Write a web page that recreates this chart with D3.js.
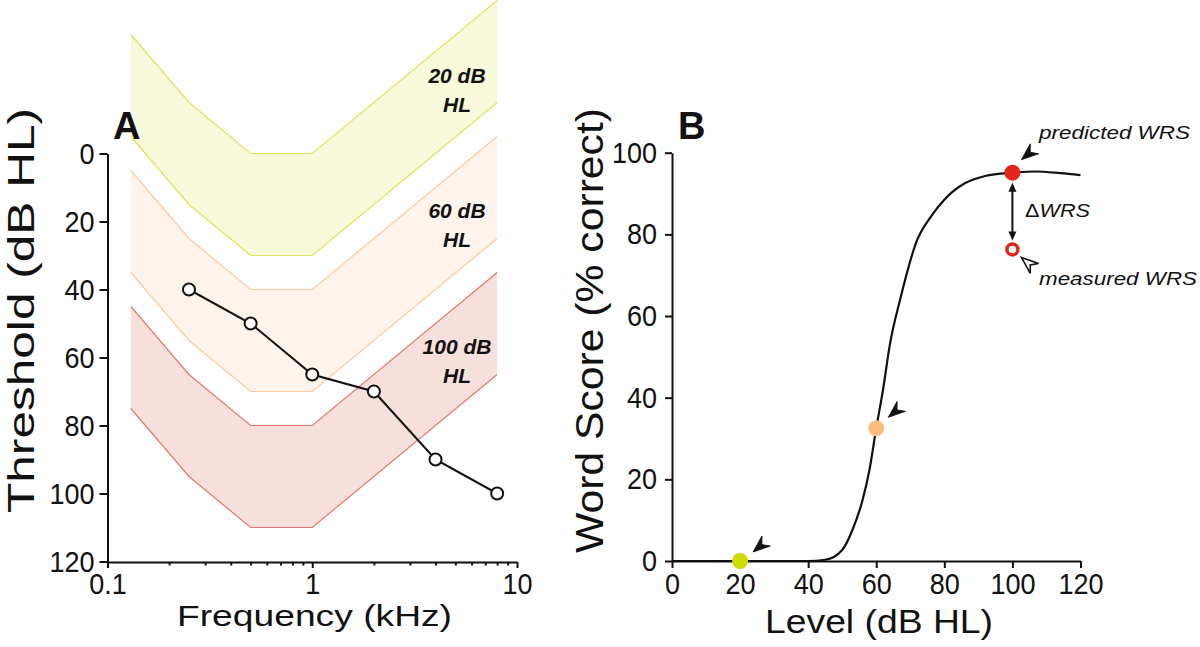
<!DOCTYPE html>
<html>
<head>
<meta charset="utf-8">
<script src="https://cdn.jsdelivr.net/npm/d3@7"></script>
<style>
  body { margin: 0; background: #fff; }
  svg { display: block; }
  text { font-family: "Liberation Sans", Arial, sans-serif; }
</style>
</head>
<body>
<svg id="chart" width="1200" height="647"></svg>
<script>
"use strict";

// ---- panel A data (audiogram) ----
const bandFreqs = [0.13, 0.25, 0.5, 1, 8];
const band20Top = [-35, -15, 0, 0, -45];
const band20Bottom = [-5, 15, 30, 30, -15];
const band60Top = [5, 25, 40, 40, -5];
const band60Bottom = [35, 55, 70, 70, 25];
const band100Top = [45, 65, 80, 80, 35];
const band100Bottom = [75, 95, 110, 110, 65];
const bandLabels = [["20 dB", "HL"], ["60 dB", "HL"], ["100 dB", "HL"]];

const audioFreqs = [0.25, 0.5, 1, 2, 4, 8];
const audioThresholds = [40, 50, 65, 70, 90, 100];

const thresholdTicks = [0, 20, 40, 60, 80, 100, 120];
const freqMajorTicks = [0.1, 1, 10];

// ---- panel B data (performance-intensity function) ----
const piLevels = [0, 40, 45, 50, 53, 56, 58, 60, 62, 64, 67, 72, 76, 80, 86, 92, 100, 107, 114, 120];
const piScores = [0, 0, 0.3, 2.7, 7.6, 15, 22.3, 32.5, 42, 53, 64, 78.6, 84.3, 88.5, 92.5, 94.3, 95.1, 95.4, 95.0, 94.5];

const markLevels = [20, 60, 100];
const markScores = [0, 32.5, 95.1];
const markColors = ["#d2db00", "#fdbf80", "#e3261c"];
const measuredLevel = 100;
const measuredScore = 76.3;

const levelTicks = [0, 20, 40, 60, 80, 100, 120];
const scoreTicks = [0, 20, 40, 60, 80, 100];

const svg = d3.select("#chart");

// stealth arrowhead, tip at origin pointing along +x
const headPath = "M0,0 L-17,-6.5 L-11.5,0 L-17,6.5 Z";
function arrowHead(g, x, y, angle, open) {
  g.append("path")
    .attr("d", headPath)
    .attr("transform", `translate(${x},${y}) rotate(${angle})`)
    .attr("fill", open ? "#fff" : "#111")
    .attr("stroke", "#111")
    .attr("stroke-width", open ? 1.6 : 0.8)
    .attr("stroke-linejoin", "miter");
}

function styleAxis(g, fs) {
  g.select(".domain").attr("stroke", "#111").attr("stroke-width", 2);
  g.selectAll(".tick line").attr("stroke", "#111").attr("stroke-width", 2);
  g.selectAll(".tick text").attr("font-size", fs).attr("fill", "#111")
    .attr("font-family", "'Liberation Sans', Arial, sans-serif")
    .each(function() {
      // reference digits are a bit narrower than Liberation's
      let w = this.getComputedTextLength();
      if (w > 0) d3.select(this).attr("textLength", w * 0.9).attr("lengthAdjust", "spacingAndGlyphs");
    });
}

// ================= Panel A =================
const xA = d3.scaleLog().domain([0.1, 10]).range([107.5, 517]);
const yA = d3.scaleLinear().domain([0, 120]).range([153.5, 561.5]);
const gA = svg.append("g");

const bands = [
  {top: band20Top, bottom: band20Bottom, fill: "#f7f9da", stroke: "#dfe45a"},
  {top: band60Top, bottom: band60Bottom, fill: "#fef4eb", stroke: "#fbcb9f"},
  {top: band100Top, bottom: band100Bottom, fill: "#f7dfdb", stroke: "#e5786c"}
];

const edge = d3.line().x(d => xA(d[0])).y(d => yA(d[1]));
const area = d3.area().x(d => xA(d.f)).y0(d => yA(d.t)).y1(d => yA(d.b));

bands.forEach(b => {
  const rows = bandFreqs.map((f, i) => ({f: f, t: b.top[i], b: b.bottom[i]}));
  gA.append("path").attr("d", area(rows)).attr("fill", b.fill);
  gA.append("path").attr("d", edge(bandFreqs.map((f, i) => [f, b.top[i]])))
    .attr("fill", "none").attr("stroke", b.stroke).attr("stroke-width", 1.2);
  gA.append("path").attr("d", edge(bandFreqs.map((f, i) => [f, b.bottom[i]])))
    .attr("fill", "none").attr("stroke", b.stroke).attr("stroke-width", 1.2);
});

// band labels, placed between the edges at the right side
const labelBase = [83, 218, 354];
bandLabels.forEach((lines, i) => {
  const t = gA.append("text")
    .attr("x", 457).attr("y", labelBase[i])
    .attr("text-anchor", "middle")
    .attr("font-size", 21).attr("font-weight", "bold").attr("font-style", "italic")
    .attr("fill", "#111");
  t.append("tspan").attr("x", 457).text(lines[0]);
  t.append("tspan").attr("x", 457).attr("dy", 29).text(lines[1]);
});

// axes
const minorFreqs = [];
[0.1, 1].forEach(dec => { for (let k = 2; k <= 9; k++) minorFreqs.push(dec * k); });
const allFreqTicks = freqMajorTicks.concat(minorFreqs);

const axAx = gA.append("g").attr("transform", `translate(0,562)`)
  .call(d3.axisBottom(xA).tickValues(allFreqTicks)
    .tickFormat(d => freqMajorTicks.some(m => Math.abs(m - d) < 1e-9) ? d3.format("~g")(d) : "")
    .tickSize(6).tickSizeOuter(0).tickPadding(5));
styleAxis(axAx, 30);
axAx.selectAll(".tick line")
  .attr("y2", d => freqMajorTicks.some(m => Math.abs(m - d) < 1e-9) ? 6 : 3.5);

const ayA = gA.append("g").attr("transform", `translate(107.5,0)`)
  .call(d3.axisLeft(yA).tickValues(thresholdTicks).tickSize(8).tickSizeOuter(0).tickPadding(5));
styleAxis(ayA, 30);

// audiogram
const audioLine = d3.line().x((d, i) => xA(audioFreqs[i])).y(d => yA(d));
gA.append("path").attr("d", audioLine(audioThresholds))
  .attr("fill", "none").attr("stroke", "#111").attr("stroke-width", 2);
gA.selectAll("circle.aud").data(audioThresholds).join("circle")
  .attr("class", "aud")
  .attr("cx", (d, i) => xA(audioFreqs[i])).attr("cy", d => yA(d)).attr("r", 6)
  .attr("fill", "#fff").attr("stroke", "#111").attr("stroke-width", 2);

// titles
gA.append("text").attr("x", 113).attr("y", 139)
  .attr("font-size", 38).attr("font-weight", "bold").attr("fill", "#111").text("A");
gA.append("text")
  .attr("transform", "translate(34,310.5) rotate(-90)")
  .attr("text-anchor", "middle").attr("font-size", 37).attr("fill", "#111")
  .attr("textLength", 405).attr("lengthAdjust", "spacingAndGlyphs")
  .text("Threshold (dB HL)");
gA.append("text").attr("x", 314.5).attr("y", 626)
  .attr("text-anchor", "middle").attr("font-size", 30).attr("fill", "#111")
  .attr("textLength", 275).attr("lengthAdjust", "spacingAndGlyphs")
  .text("Frequency (kHz)");

// ================= Panel B =================
const xB = d3.scaleLinear().domain([0, 120]).range([672, 1080.5]);
const yB = d3.scaleLinear().domain([0, 100]).range([561, 152.7]);
const gB = svg.append("g");

const axBx = gB.append("g").attr("transform", `translate(0,561)`)
  .call(d3.axisBottom(xB).tickValues(levelTicks).tickSize(7).tickSizeOuter(0).tickPadding(5));
styleAxis(axBx, 30);
const axBy = gB.append("g").attr("transform", `translate(672,0)`)
  .call(d3.axisLeft(yB).tickValues(scoreTicks).tickSize(7).tickSizeOuter(0).tickPadding(8));
styleAxis(axBy, 30);

const piLine = d3.line().curve(d3.curveMonotoneX)
  .x((d, i) => xB(piLevels[i])).y(d => yB(d));
gB.append("path").attr("d", piLine(piScores))
  .attr("fill", "none").attr("stroke", "#111").attr("stroke-width", 2.2);

// delta arrow between predicted and measured
const ax = xB(measuredLevel);
const yTop = yB(markScores[2]) + 10, yBot = yB(measuredScore) - 9;
gB.append("line").attr("x1", ax).attr("x2", ax).attr("y1", yTop + 4).attr("y2", yBot - 4)
  .attr("stroke", "#111").attr("stroke-width", 2);
gB.append("path").attr("d", `M${ax},${yTop} L${ax - 4},${yTop + 9} L${ax + 4},${yTop + 9} Z`).attr("fill", "#111");
gB.append("path").attr("d", `M${ax},${yBot} L${ax - 4},${yBot - 9} L${ax + 4},${yBot - 9} Z`).attr("fill", "#111");

// points
gB.selectAll("circle.mk").data(markScores).join("circle")
  .attr("class", "mk")
  .attr("cx", (d, i) => xB(markLevels[i])).attr("cy", d => yB(d)).attr("r", 8)
  .attr("fill", (d, i) => markColors[i]);
gB.append("circle").attr("cx", xB(measuredLevel)).attr("cy", yB(measuredScore)).attr("r", 5.5)
  .attr("fill", "#fff").attr("stroke", markColors[2]).attr("stroke-width", 3.5);

// pointer arrowheads
const headOffsets = [[13, -9], [12, -11], [9, -13]];
markScores.forEach((s, i) => {
  arrowHead(gB, xB(markLevels[i]) + headOffsets[i][0], yB(s) + headOffsets[i][1], 140, false);
});
arrowHead(gB, xB(measuredLevel) + 9, yB(measuredScore) + 8, 220, true);

// annotations
gB.append("text").attr("x", 1039).attr("y", 139)
  .attr("font-size", 18).attr("font-style", "italic").attr("fill", "#111")
  .attr("textLength", 151).attr("lengthAdjust", "spacingAndGlyphs")
  .text("predicted WRS");
const dt = gB.append("text").attr("x", 1025).attr("y", 217)
  .attr("font-size", 18).attr("fill", "#111")
  .attr("textLength", 65).attr("lengthAdjust", "spacingAndGlyphs");
dt.append("tspan").text("\u0394");
dt.append("tspan").attr("font-style", "italic").text("WRS");
gB.append("text").attr("x", 1039).attr("y", 285)
  .attr("font-size", 18).attr("font-style", "italic").attr("fill", "#111")
  .attr("textLength", 158).attr("lengthAdjust", "spacingAndGlyphs")
  .text("measured WRS");

// titles
gB.append("text").attr("x", 678).attr("y", 139)
  .attr("font-size", 38).attr("font-weight", "bold").attr("fill", "#111").text("B");
gB.append("text")
  .attr("transform", "translate(603,330.5) rotate(-90)")
  .attr("text-anchor", "middle").attr("font-size", 38).attr("fill", "#111")
  .attr("textLength", 445).attr("lengthAdjust", "spacingAndGlyphs")
  .text("Word Score (% correct)");
gB.append("text").attr("x", 879).attr("y", 633)
  .attr("text-anchor", "middle").attr("font-size", 34).attr("fill", "#111")
  .attr("textLength", 228).attr("lengthAdjust", "spacingAndGlyphs")
  .text("Level (dB HL)");
</script>
</body>
</html>
